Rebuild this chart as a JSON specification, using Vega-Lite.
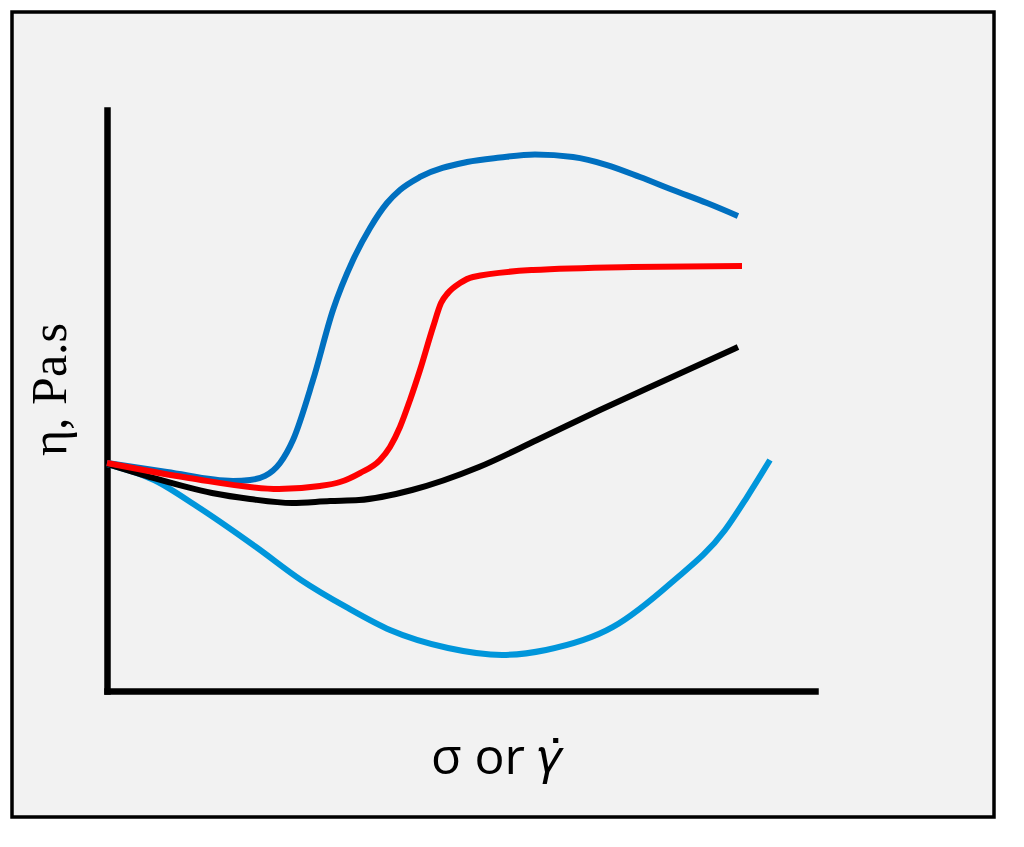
{
  "$schema": "https://vega.github.io/schema/vega-lite/v6.json",
  "width": 982,
  "height": 805,
  "autosize": {"type": "none"},
  "padding": {"left": 12, "top": 12, "right": 30, "bottom": 30},
  "background": "white",
  "config": {
    "view": {"fill": "#f2f2f2", "stroke": "black", "strokeWidth": 3.5}
  },
  "data": {
    "values": [
      {"s": "s1", "x": 0, "y": 3.907},
      {"s": "s1", "x": 0.664, "y": 3.632},
      {"s": "s1", "x": 1.285, "y": 3.167},
      {"s": "s1", "x": 2.105, "y": 2.478},
      {"s": "s1", "x": 2.740, "y": 1.911},
      {"s": "s1", "x": 3.376, "y": 1.446},
      {"s": "s1", "x": 3.997, "y": 1.050},
      {"s": "s1", "x": 4.816, "y": 0.740},
      {"s": "s1", "x": 5.579, "y": 0.620},
      {"s": "s1", "x": 6.201, "y": 0.706},
      {"s": "s1", "x": 7.147, "y": 1.102},
      {"s": "s1", "x": 7.966, "y": 1.859},
      {"s": "s1", "x": 8.729, "y": 2.771},
      {"s": "s1", "x": 9.040, "y": 3.339},
      {"s": "s1", "x": 9.364, "y": 3.976},

      {"s": "s2", "x": 0, "y": 3.907},
      {"s": "s2", "x": 0.607, "y": 3.683},
      {"s": "s2", "x": 1.483, "y": 3.408},
      {"s": "s2", "x": 2.020, "y": 3.305},
      {"s": "s2", "x": 2.613, "y": 3.236},
      {"s": "s2", "x": 3.150, "y": 3.270},
      {"s": "s2", "x": 3.559, "y": 3.287},
      {"s": "s2", "x": 4.308, "y": 3.460},
      {"s": "s2", "x": 5.254, "y": 3.855},
      {"s": "s2", "x": 6.073, "y": 4.320},
      {"s": "s2", "x": 6.963, "y": 4.836},
      {"s": "s2", "x": 7.952, "y": 5.387},
      {"s": "s2", "x": 8.912, "y": 5.921},

      {"s": "s3", "x": 0, "y": 3.924},
      {"s": "s3", "x": 0.847, "y": 3.769},
      {"s": "s3", "x": 1.780, "y": 3.614},
      {"s": "s3", "x": 2.020, "y": 3.632},
      {"s": "s3", "x": 2.232, "y": 3.701},
      {"s": "s3", "x": 2.444, "y": 3.924},
      {"s": "s3", "x": 2.627, "y": 4.320},
      {"s": "s3", "x": 2.910, "y": 5.353},
      {"s": "s3", "x": 3.192, "y": 6.558},
      {"s": "s3", "x": 3.475, "y": 7.418},
      {"s": "s3", "x": 3.715, "y": 7.969},
      {"s": "s3", "x": 3.955, "y": 8.399},
      {"s": "s3", "x": 4.138, "y": 8.623},
      {"s": "s3", "x": 4.421, "y": 8.847},
      {"s": "s3", "x": 5.085, "y": 9.105},
      {"s": "s3", "x": 5.551, "y": 9.182},
      {"s": "s3", "x": 6.045, "y": 9.234},
      {"s": "s3", "x": 6.582, "y": 9.191},
      {"s": "s3", "x": 7.062, "y": 9.053},
      {"s": "s3", "x": 7.528, "y": 8.847},
      {"s": "s3", "x": 7.994, "y": 8.623},
      {"s": "s3", "x": 8.475, "y": 8.399},
      {"s": "s3", "x": 8.912, "y": 8.176},

      {"s": "s4", "x": 0, "y": 3.924},
      {"s": "s4", "x": 1.158, "y": 3.666},
      {"s": "s4", "x": 2.429, "y": 3.477},
      {"s": "s4", "x": 3.008, "y": 3.528},
      {"s": "s4", "x": 3.291, "y": 3.597},
      {"s": "s4", "x": 3.573, "y": 3.752},
      {"s": "s4", "x": 3.856, "y": 3.976},
      {"s": "s4", "x": 3.997, "y": 4.200},
      {"s": "s4", "x": 4.138, "y": 4.544},
      {"s": "s4", "x": 4.280, "y": 5.009},
      {"s": "s4", "x": 4.421, "y": 5.525},
      {"s": "s4", "x": 4.605, "y": 6.265},
      {"s": "s4", "x": 4.718, "y": 6.678},
      {"s": "s4", "x": 4.816, "y": 6.850},
      {"s": "s4", "x": 4.986, "y": 7.022},
      {"s": "s4", "x": 5.169, "y": 7.126},
      {"s": "s4", "x": 6.017, "y": 7.246},
      {"s": "s4", "x": 7.429, "y": 7.298},
      {"s": "s4", "x": 8.969, "y": 7.315}
    ]
  },
  "mark": {"type": "line", "interpolate": "monotone", "strokeWidth": 6, "strokeCap": "butt", "clip": false},
  "encoding": {
    "x": {
      "field": "x", "type": "quantitative",
      "scale": {"domain": [0, 10], "range": [95, 803], "nice": false, "zero": false},
      "axis": {
        "orient": "bottom", "offset": -126, "grid": false, "ticks": false, "labels": false,
        "domain": true, "domainColor": "black", "domainWidth": 6.5, "domainCap": "square",
        "title": "σ or 𝛾̇", "titleFont": "Open Sans", "titleFontSize": 50, "titleFontWeight": "normal",
        "titleColor": "black", "titleX": 485, "titleY": 82, "titleBaseline": "alphabetic", "titleAlign": "center"
      }
    },
    "y": {
      "field": "y", "type": "quantitative",
      "scale": {"domain": [0, 10], "range": [679, 98], "nice": false, "zero": false},
      "axis": {
        "orient": "left", "offset": -95, "grid": false, "ticks": false, "labels": false,
        "domain": true, "domainColor": "black", "domainWidth": 6.5, "domainCap": "square",
        "title": "η, Pa.s", "titleFont": "Liberation Serif", "titleFontSize": 50, "titleFontWeight": "normal",
        "titleColor": "black", "titleX": -42, "titleY": 377, "titleBaseline": "alphabetic", "titleAlign": "center", "titleAngle": -90
      }
    },
    "color": {
      "field": "s", "type": "nominal",
      "scale": {"domain": ["s1", "s2", "s3", "s4"], "range": ["#0096DB", "#000000", "#0070C0", "#FF0000"]},
      "legend": null
    }
  }
}
